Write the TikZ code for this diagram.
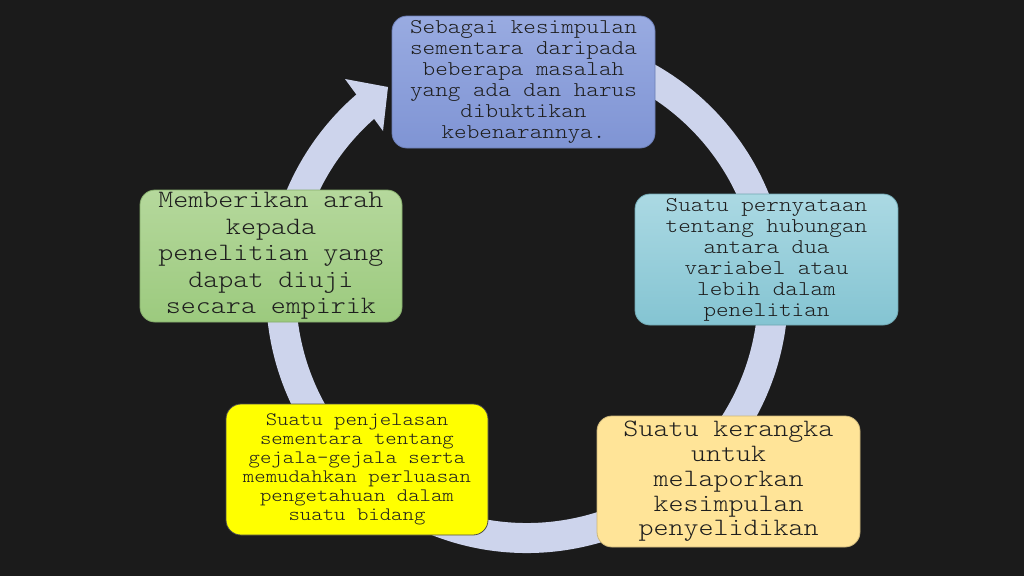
\documentclass[tikz,border=0pt]{standalone}
\usepackage{fontspec}
\newfontfamily\cour[FakeStretch=1.143]{Latin Modern Mono Light}
\definecolor{bg}{HTML}{1B1B1B}
\definecolor{ringc}{HTML}{CDD4EC}
\definecolor{txt}{HTML}{1E1E1E}
\definecolor{blueT}{HTML}{99ABE1}
\definecolor{blueB}{HTML}{7F94D4}
\definecolor{tealT}{HTML}{ABD9E3}
\definecolor{tealB}{HTML}{84C4D2}
\definecolor{greenT}{HTML}{B5D89C}
\definecolor{greenB}{HTML}{9CCA7E}
\definecolor{yel}{HTML}{FFFF00}
\definecolor{peach}{HTML}{FFE498}
\begin{document}
\begin{tikzpicture}[x=1pt,y=-1pt,
  box/.style={rounded corners=15pt, minimum width=263pt, minimum height=131pt,
    align=center, inner sep=0pt, text=txt, line width=0.8pt},
  ring/.style={ringc}]
\useasboundingbox (0,0) rectangle (1024,576);
\fill[bg] (0,0) rectangle (1024,576);
\coordinate (c) at (527,292);
\draw[ring, line width=30pt] (c) ++(262:246) arc[start angle=262, end angle=590, radius=246];
\fill[ring] (345,79) -- (388,87) -- (383,131) -- cycle;
\node[box, top color=blueT, bottom color=blueB, draw=blueB!85!black, minimum height=132pt,
  font={\cour\fontsize{21}{21}\selectfont}] (h1) at (523.5,82)
  {Sebagai kesimpulan\\sementara daripada\\beberapa masalah\\yang ada dan harus\\dibuktikan\\kebenarannya.};
\node[box, top color=tealT, bottom color=tealB, draw=tealB!85!black,
  font={\cour\fontsize{21}{21}\selectfont}] (h2) at (766.5,259.5)
  {Suatu pernyataan\\tentang hubungan\\antara dua\\variabel atau\\lebih dalam\\penelitian};
\node[box, fill=peach, draw=peach!80!black,
  font={\cour\fontsize{25}{24.7}\selectfont}] (h3) at (728.5,481.5)
  {Suatu kerangka\\untuk\\melaporkan\\kesimpulan\\penyelidikan};
\node[box, fill=yel, draw=black!70, minimum width=262pt,
  font={\cour\fontsize{19}{19}\selectfont}] (h4) at (357,469.5)
  {Suatu penjelasan\\sementara tentang\\gejala-gejala serta\\memudahkan perluasan\\pengetahuan dalam\\suatu bidang};
\node[box, top color=greenT, bottom color=greenB, draw=greenB!85!black, minimum width=262pt, minimum height=132pt,
  font={\cour\fontsize{25}{26.5}\selectfont}] (h5) at (271,256)
  {Memberikan arah\\kepada\\penelitian yang\\dapat diuji\\secara empirik};
\end{tikzpicture}
\end{document}
